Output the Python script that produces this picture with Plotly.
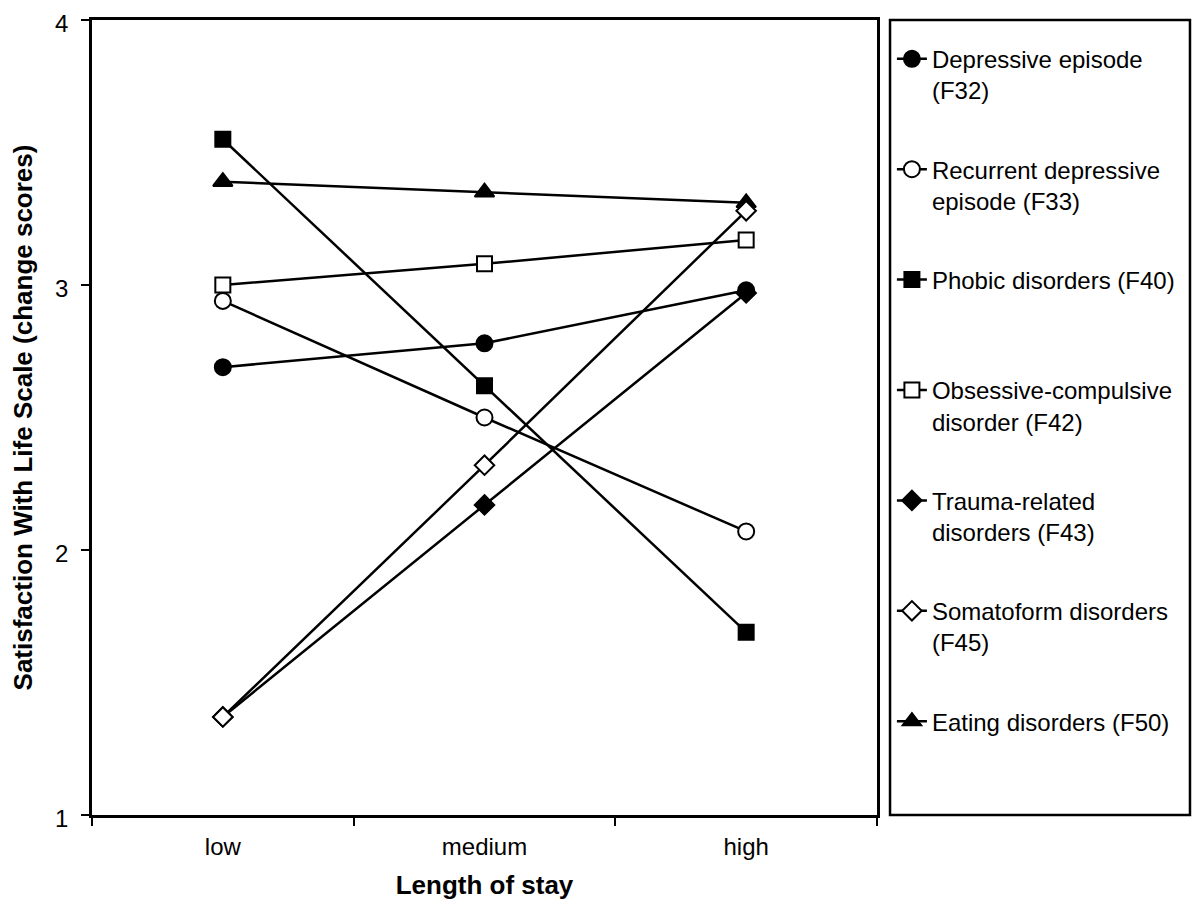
import plotly.graph_objects as go

# length of stay groups
stay = ["low", "medium", "high"]

# SWLS change scores per diagnosis group
depressive = [2.69, 2.78, 2.98]
recurrent = [2.94, 2.50, 2.07]
phobic = [3.55, 2.62, 1.69]
obsessive = [3.00, 3.08, 3.17]
trauma = [1.37, 2.17, 2.97]
somatoform = [1.37, 2.32, 3.28]
eating = [3.39, 3.35, 3.31]

# blank second line keeps the legend rows evenly spaced
names = ["Depressive episode<br>(F32)",
         "Recurrent depressive<br>episode (F33)",
         "Phobic disorders (F40)<br> ",
         "Obsessive-compulsive<br>disorder (F42)",
         "Trauma-related<br>disorders (F43)",
         "Somatoform disorders<br>(F45)",
         "Eating disorders (F50)<br> "]

series = [depressive, recurrent, phobic, obsessive, trauma, somatoform, eating]
symbols = ["circle", "circle", "square", "square", "diamond", "diamond", "triangle-up"]
fills = ["black", "white", "black", "white", "black", "white", "black"]
sizes = [16, 16, 15, 15, 15, 15, 17]

# somatoform is drawn last so its open diamond sits on the triangle
draw_order = [0, 1, 2, 3, 4, 6, 5]

FONT = "Liberation Sans, Arial, sans-serif"

fig = go.Figure()
for i in draw_order:
    fig.add_trace(go.Scatter(
        x=stay, y=series[i], name=names[i], mode="lines+markers",
        line=dict(color="black", width=2.5),
        marker=dict(symbol=symbols[i], size=sizes[i], color=fills[i],
                    line=dict(color="black", width=2)),
        legendgroup=str(i), legendrank=10 * (i + 1),
    ))

# page body adds 8px, so the figure is a bit smaller than the window
fig.update_layout(
    width=1184, height=892,
    margin=dict(l=84, r=315, t=12, b=85),
    plot_bgcolor="white", paper_bgcolor="white",
    font=dict(family=FONT, size=24, color="black"),
    showlegend=True,
    legend=dict(x=1.019, y=0.979, xanchor="left", yanchor="top",
                traceorder="grouped", tracegroupgap=45, valign="top",
                font=dict(size=24), bgcolor="rgba(0,0,0,0)"),
)

fig.update_xaxes(
    type="category", range=[-0.5, 2.5], tickson="boundaries",
    ticks="outside", ticklen=8, tickwidth=2, tickcolor="black",
    showline=True, linecolor="black", linewidth=2.5, mirror=True,
    showgrid=False, ticklabelstandoff=8, automargin=False,
    tickfont=dict(size=24),
    title=dict(text="<b>Length of stay</b>", standoff=18, font=dict(size=26)),
)
fig.update_yaxes(
    range=[1, 4], dtick=1, ticks="outside", ticklen=8, tickwidth=2,
    tickcolor="black", showline=True, linecolor="black", linewidth=2.5,
    mirror=True, showgrid=False, zeroline=False, ticklabelstandoff=8,
    ticklabelshift=4, automargin=False, ticklabeloverflow="allow",
    tickfont=dict(size=24),
    title=dict(text="<b>Satisfaction With Life Scale (change scores)</b>",
               standoff=30, font=dict(size=26)),
)

# inner half of the crossing tick marks
fig.update_layout(
    xaxis2=dict(overlaying="x", range=[-0.5, 2.5], tickvals=[0.5, 1.5],
                ticks="inside", ticklen=7, tickwidth=2, tickcolor="black",
                showticklabels=False, showgrid=False, zeroline=False,
                showline=False, side="bottom"),
    yaxis2=dict(overlaying="y", range=[1, 4], dtick=1, ticks="inside",
                ticklen=7, tickwidth=2, tickcolor="black",
                showticklabels=False, showgrid=False, zeroline=False,
                showline=False, side="left"),
)

# legend frame
fig.add_shape(type="rect", xref="paper", yref="paper",
              x0=1.0166, x1=1.3987, y0=0, y1=1,
              line=dict(color="black", width=2.5))

fig.write_html("out.html")
